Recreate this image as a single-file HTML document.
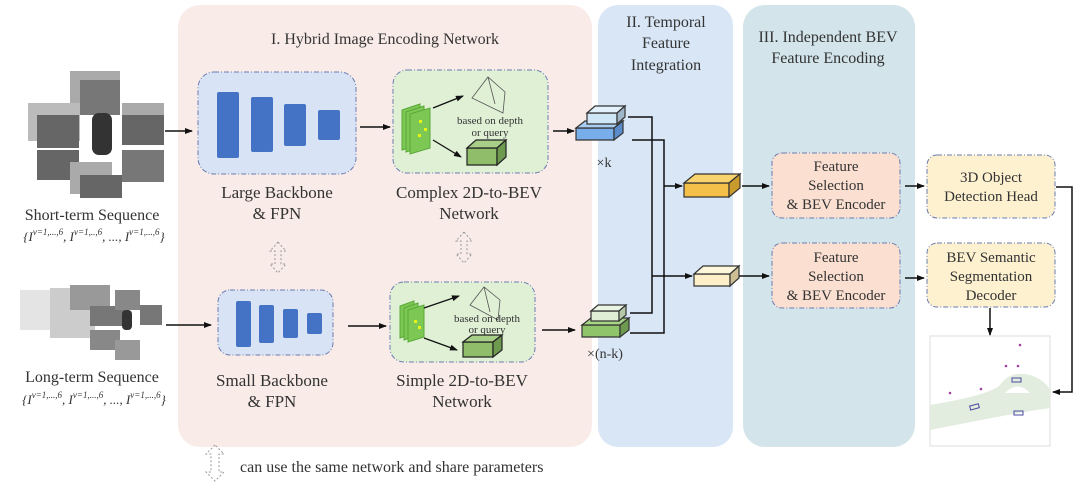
<!DOCTYPE html><html><head><meta charset="utf-8"><style>body{margin:0;background:#fff}svg{display:block}text{font-family:"Liberation Serif",serif;fill:#333}</style></head><body>
<svg width="1080" height="492" viewBox="0 0 1080 492" xmlns="http://www.w3.org/2000/svg">
<defs><marker id="a" markerWidth="8" markerHeight="8" refX="7" refY="4" orient="auto" markerUnits="userSpaceOnUse"><path d="M0,1 L8,4 L0,7z" fill="#111"/></marker></defs>
<rect x="178" y="5" width="414" height="442" rx="22" fill="#f9ece8"/>
<rect x="598" y="5" width="135" height="442" rx="20" fill="#d9e6f6"/>
<rect x="743" y="5" width="172" height="442" rx="22" fill="#d3e4ea"/>
<g font-size="16" text-anchor="middle">
<text x="385" y="44">I. Hybrid Image Encoding Network</text>
<text x="666" y="27">II. Temporal</text><text x="666" y="48">Feature</text><text x="666" y="70">Integration</text>
<text x="828" y="42">III. Independent BEV</text><text x="828" y="63">Feature Encoding</text>
</g>
<!-- camera images -->
<g>
<rect x="70" y="71" width="50" height="38" fill="#aaa"/><rect x="80" y="80" width="40" height="35" fill="#777"/>
<rect x="28" y="103" width="52" height="38" fill="#bbb"/><rect x="37" y="115" width="42" height="33" fill="#666"/>
<rect x="122" y="103" width="42" height="34" fill="#aaa"/><rect x="122" y="115" width="42" height="30" fill="#666"/>
<rect x="37" y="150" width="42" height="30" fill="#666"/><rect x="122" y="150" width="42" height="32" fill="#777"/>
<rect x="70" y="162" width="42" height="32" fill="#aaa"/><rect x="80" y="175" width="42" height="23" fill="#666"/>
<rect x="92" y="113" width="20" height="42" rx="7" fill="#333"/>
<rect x="20" y="290" width="60" height="40" fill="#e4e4e4"/><rect x="50" y="288" width="45" height="50" fill="#ccc"/>
<rect x="70" y="285" width="40" height="25" fill="#999"/><rect x="90" y="306" width="35" height="20" fill="#777"/>
<rect x="115" y="290" width="25" height="20" fill="#888"/><rect x="140" y="305" width="22" height="20" fill="#777"/>
<rect x="90" y="330" width="30" height="20" fill="#888"/><rect x="115" y="340" width="25" height="20" fill="#999"/>
<rect x="122" y="310" width="10" height="20" rx="4" fill="#333"/>
</g>
<g font-size="16" text-anchor="middle">
<text x="92" y="220">Short-term Sequence</text>
<text x="94" y="241" font-style="italic" font-size="13">{I<tspan font-size="9" dy="-6">v=1,...,6</tspan><tspan dy="6">, I</tspan><tspan font-size="9" dy="-6">v=1,..,6</tspan><tspan dy="6">, ..., I</tspan><tspan font-size="9" dy="-6">v=1,...,6</tspan><tspan dy="6">}</tspan></text>
<text x="92" y="382">Long-term Sequence</text>
<text x="94" y="404" font-style="italic" font-size="13">{I<tspan font-size="9" dy="-6">v=1,...,6</tspan><tspan dy="6">, I</tspan><tspan font-size="9" dy="-6">v=1,...,6</tspan><tspan dy="6">, ..., I</tspan><tspan font-size="9" dy="-6">v=1,...,6</tspan><tspan dy="6">}</tspan></text>
</g>
<!-- backbones -->
<rect x="198" y="72" width="158" height="102" rx="16" fill="#d8e3f5" stroke="#6a7bb0" stroke-dasharray="5,2,1,2"/>
<g fill="#4472c4"><rect x="217" y="92" width="22" height="66" rx="2"/><rect x="251" y="97" width="22" height="55" rx="2"/><rect x="284" y="104" width="22" height="42" rx="2"/><rect x="318" y="110" width="22" height="30" rx="2"/></g>
<rect x="218" y="290" width="115" height="65" rx="12" fill="#d8e3f5" stroke="#6a7bb0" stroke-dasharray="5,2,1,2"/>
<g fill="#4472c4"><rect x="236" y="301" width="15" height="46" rx="2"/><rect x="259" y="305" width="15" height="38" rx="2"/><rect x="283" y="309" width="15" height="29" rx="2"/><rect x="307" y="313" width="15" height="21" rx="2"/></g>
<g font-size="17" text-anchor="middle">
<text x="277" y="198">Large Backbone</text><text x="277" y="219">&amp; FPN</text>
<text x="272" y="386">Small Backbone</text><text x="272" y="407">&amp; FPN</text>
<text x="469" y="198">Complex 2D-to-BEV</text><text x="469" y="219">Network</text>
<text x="462" y="386">Simple 2D-to-BEV</text><text x="462" y="407">Network</text>
</g>
<!-- dashed double arrows -->
<g fill="none" stroke="#999" stroke-dasharray="2,2">
<path d="M278,242 l-8,9 h5 v13 h-5 l8,9 l8,-9 h-5 v-13 h5z"/>
<path d="M464,232 l-8,9 h5 v13 h-5 l8,9 l8,-9 h-5 v-13 h5z"/>
<path d="M215,445 l-9,9 h5 v18 h-5 l9,9 l9,-9 h-5 v-18 h5z"/>
</g>
<text x="240" y="472" font-size="16">can use the same network and share parameters</text>
<!-- 2D-to-BEV boxes -->
<rect x="393" y="70" width="155" height="103" rx="14" fill="#dff0d5" stroke="#6a7bb0" stroke-dasharray="5,2,1,2"/>
<rect x="390" y="282" width="145" height="80" rx="14" fill="#dff0d5" stroke="#6a7bb0" stroke-dasharray="5,2,1,2"/>
<g fill="#7dc855" stroke="#5aa838">
<path d="M402,110 l18,-6 v40 l-18,6z"/><path d="M406,112 l18,-6 v40 l-18,6z"/><path d="M410,114 l20,-6 v40 l-20,6z"/>
<path d="M400,306 l14,-5 v32 l-14,5z"/><path d="M404,308 l14,-5 v32 l-14,5z"/><path d="M408,310 l16,-5 v32 l-16,5z"/>
</g>
<g fill="#ff0" opacity=".8"><rect x="419" y="120" width="3" height="3"/><rect x="424" y="128" width="3" height="3"/><rect x="418" y="134" width="3" height="3"/><rect x="414" y="320" width="3" height="3"/><rect x="418" y="326" width="3" height="3"/></g>
<g stroke="#111" stroke-width="1.3" marker-end="url(#a)"><line x1="433" y1="108" x2="463" y2="96"/><line x1="433" y1="140" x2="461" y2="157"/><line x1="424" y1="308" x2="459" y2="296"/><line x1="424" y1="338" x2="457" y2="350"/></g>
<g fill="none" stroke="#555" stroke-width="0.8"><path d="M472,98 L488,77 L505,92 L503,113z M488,77 L495,104"/><path d="M470,305 L484,287 L500,300 L498,320z M484,287 L490,312"/></g>
<g font-size="11" text-anchor="middle"><text x="490" y="124">based on depth</text><text x="490" y="136">or query</text><text x="487" y="322">based on depth</text><text x="487" y="333">or query</text></g>
<g stroke="#222" stroke-width="1.2"><path d="M467,148 h30 v17 h-30z" fill="#8fbd6a"/><path d="M467,148 l9,-8 h30 l-9,8z" fill="#a8cf88"/><path d="M497,148 l9,-8 v17 l-9,8z" fill="#6d9a4f"/>
<path d="M463,342 h30 v15 h-30z" fill="#8fbd6a"/><path d="M463,342 l9,-7 h30 l-9,7z" fill="#a8cf88"/><path d="M493,342 l9,-7 v15 l-9,7z" fill="#6d9a4f"/></g>
<!-- arrows main -->
<g stroke="#111" stroke-width="1.5" fill="none">
<line x1="165" y1="131" x2="192" y2="131" marker-end="url(#a)"/>
<line x1="166" y1="325" x2="211" y2="325" marker-end="url(#a)"/>
<line x1="360" y1="127" x2="390" y2="127" marker-end="url(#a)"/>
<line x1="348" y1="326" x2="386" y2="326" marker-end="url(#a)"/>
<line x1="553" y1="131" x2="574" y2="131" marker-end="url(#a)"/>
<line x1="542" y1="330" x2="575" y2="330" marker-end="url(#a)"/>
<path d="M628,117 H652 V313 H630"/><path d="M632,140 H664 V333 H630"/>
<line x1="664" y1="186" x2="682" y2="186" marker-end="url(#a)"/>
<line x1="652" y1="276" x2="692" y2="276" marker-end="url(#a)"/>
<line x1="742" y1="186" x2="769" y2="186" marker-end="url(#a)"/>
<line x1="739" y1="276" x2="769" y2="276" marker-end="url(#a)"/>
<line x1="905" y1="186" x2="924" y2="186" marker-end="url(#a)"/>
<line x1="905" y1="278" x2="924" y2="278" marker-end="url(#a)"/>
<line x1="990" y1="308" x2="990" y2="335" marker-end="url(#a)"/>
<path d="M1056,187 H1072 V392 H1053" marker-end="url(#a)"/>
</g>
<g stroke="#333" stroke-width="1.2">
<path d="M576,128 h38 v12 h-38z" fill="#78aeea"/><path d="M576,128 l9,-7 h38 l-9,7z" fill="#a9cdf3"/><path d="M614,128 l9,-7 v12 l-9,7z" fill="#5a8ccc"/>
<path d="M587,113 h30 v11 h-30z" fill="#cfe6f7"/><path d="M587,113 l8,-7 h30 l-8,7z" fill="#e2f1fb"/><path d="M617,113 l8,-7 v11 l-8,7z" fill="#9fb6c8"/>
<path d="M582,325 h38 v12 h-38z" fill="#8fc46a"/><path d="M582,325 l9,-7 h38 l-9,7z" fill="#a8d488"/><path d="M620,325 l9,-7 v12 l-9,7z" fill="#6d9a4f"/>
<path d="M591,311 h28 v10 h-28z" fill="#dfeed5"/><path d="M591,311 l7,-6 h28 l-7,6z" fill="#eaf4e2"/><path d="M619,311 l7,-6 v10 l-7,6z" fill="#b5c9a8"/>
<path d="M684,183 h45 v14 h-45z" fill="#f5c04a"/><path d="M684,183 l11,-9 h45 l-11,9z" fill="#f9d36d"/><path d="M729,183 l11,-9 v14 l-11,9z" fill="#c99a2c"/>
<path d="M694,274 h36 v12 h-36z" fill="#fdf0c8"/><path d="M694,274 l9,-8 h36 l-9,8z" fill="#fff7dc"/><path d="M730,274 l9,-8 v12 l-9,8z" fill="#cdbf93"/>
</g>
<text x="604" y="167" font-size="14" text-anchor="middle">×k</text>
<text x="605" y="358" font-size="14" text-anchor="middle">×(n-k)</text>
<g stroke="#6a7bb0" stroke-dasharray="5,2,1,2">
<rect x="772" y="153" width="128" height="65" rx="10" fill="#fbe0d2"/>
<rect x="772" y="243" width="128" height="65" rx="10" fill="#fbe0d2"/>
<rect x="927" y="155" width="128" height="63" rx="10" fill="#fdf1d0"/>
<rect x="927" y="243" width="128" height="64" rx="10" fill="#fdf1d0"/>
</g>
<g font-size="15" text-anchor="middle">
<text x="836" y="171">Feature</text><text x="836" y="190">Selection</text><text x="836" y="209">&amp; BEV Encoder</text>
<text x="836" y="262">Feature</text><text x="836" y="281">Selection</text><text x="836" y="300">&amp; BEV Encoder</text>
<text x="991" y="182">3D Object</text><text x="991" y="201">Detection Head</text>
<text x="991" y="262">BEV Semantic</text><text x="991" y="281">Segmentation</text><text x="991" y="300">Decoder</text>
</g>
<rect x="930" y="336" width="120" height="110" fill="#fff" stroke="#ddd"/>
<path d="M930,405 Q990,395 1000,385 Q1010,370 1030,375 Q1045,380 1050,390 V408 Q1020,412 930,430z" fill="#e2ecdf"/>
<path d="M1005,393 Q1018,380 1030,393z" fill="#fff"/>
<g fill="none" stroke="#4a4aa0"><rect x="1012" y="378" width="9" height="4"/><rect x="970" y="405" width="9" height="4" transform="rotate(-15 974 407)"/><rect x="1014" y="411" width="9" height="4"/></g>
<g fill="#a040a0"><circle cx="1020" cy="345" r="1.3"/><circle cx="1006" cy="366" r="1.3"/><circle cx="1018" cy="366" r="1.3"/><circle cx="950" cy="393" r="1.3"/><circle cx="981" cy="389" r="1.3"/></g>
</svg></body></html>
